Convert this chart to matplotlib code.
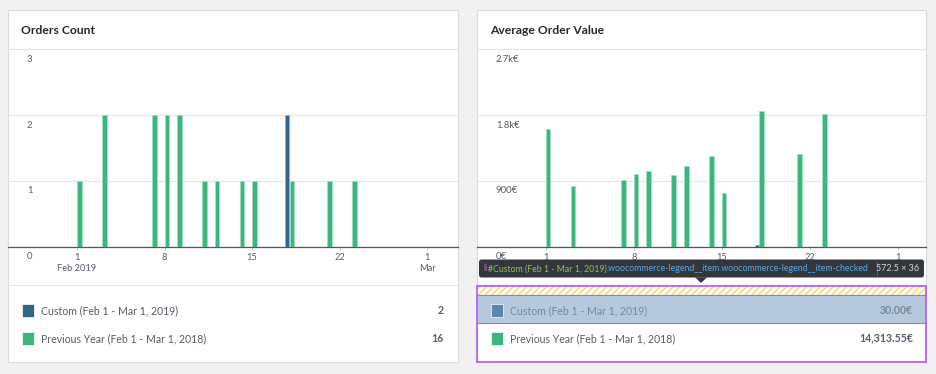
import matplotlib
matplotlib.use("Agg")
import matplotlib.pyplot as plt
from matplotlib.patches import Rectangle, Polygon, FancyBboxPatch
import matplotlib.transforms as mtrans

plt.rcParams['font.family'] = ['Lato', 'DejaVu Sans']
plt.rcParams['hatch.color'] = "#e6d66a"
plt.rcParams['hatch.linewidth'] = 0.8

# ---------------- data ----------------
days_prev = [1, 3, 7, 8, 9, 11, 12, 14, 15, 18, 21, 23]
orders_prev = [1, 2, 2, 2, 2, 1, 1, 1, 1, 1, 1, 1]
days_cur = [18]
orders_cur = [2]
aov_prev = [1605, 830, 918, 1000, 1040, 985, 1110, 1240, 735, 1855, 1263, 1815]
aov_cur = [30]

x_ticks = [1, 8, 15, 22, 29]
x_ticklabels = ["1\nFeb 2019", "8", "15", "22", "1\nMar"]
x_ticklabels_aov = ["1", "8", "15", "22", "1"]   # second line hidden by tooltip
orders_yticks = [0, 1, 2, 3]
orders_ylabels = ["0", "1", "2", "3"]
aov_yticks = [0, 900, 1800, 2700]
aov_ylabels = ["0€", "900€", "1.8k€", "2.7k€"]

titles = ["Orders Count", "Average Order Value"]
legend_labels = ["Custom (Feb 1 - Mar 1, 2019)", "Previous Year (Feb 1 - Mar 1, 2018)"]
orders_totals = ["2", "16"]
aov_totals = ["30.00€", "14,313.55€"]

BLUE = "#33658a"
GREEN = "#3bb77e"
TEXT = "#555d66"
W, H = 936, 374

fig = plt.figure(figsize=(W / 100, H / 100), dpi=100, facecolor="#f1f1f1")


def pixel_overlay(z):
    a = fig.add_axes([0, 0, 1, 1])
    a.set_xlim(0, W)
    a.set_ylim(H, 0)
    a.axis("off")
    a.set_zorder(z)
    a.patch.set_visible(False)
    return a


bg = pixel_overlay(0)


def px_axes(x0, y0, x1, y1):
    return fig.add_axes([x0 / W, 1 - y1 / H, (x1 - x0) / W, (y1 - y0) / H])


cards = [(8.3, 9.5, 457.5, 361.5), (477.3, 9.5, 926.3, 361.5)]
for (x0, y0, x1, y1), title in zip(cards, titles):
    bg.add_patch(Rectangle((x0, y0), x1 - x0, y1 - y0, facecolor="white",
                           edgecolor="#dcdcdc", lw=0.8))
    bg.plot([x0, x1], [49.4, 49.4], color="#e2e4e7", lw=0.8)
    bg.plot([x0, x1], [285, 285], color="#e2e4e7", lw=0.8)
    bg.text(x0 + 13, 30.5, title, fontsize=8.7, fontweight="bold",
            color="#23282d", va="center", ha="left")


def draw_chart(x0, x1, day1_px, step_px, prev, cur, yticks, ylabels, ymax, xlabels):
    ax = px_axes(x0, 49.4, x1, 246.7)
    ax.set_zorder(1)
    left = 1 + (x0 - day1_px) / step_px
    right = 1 + (x1 - day1_px) / step_px
    ax.set_xlim(left, right)
    ax.set_ylim(0, ymax)
    bw = 4.6 / step_px
    ax.bar(days_prev, prev, width=bw, align="edge", color=GREEN,
           edgecolor="#a8e0c4", linewidth=0.4, zorder=3)
    ax.bar([d - bw for d in days_cur], cur, width=bw, align="edge", color=BLUE,
           edgecolor="#8fb0cc", linewidth=0.4, zorder=3)
    for s in ["top", "left", "right"]:
        ax.spines[s].set_visible(False)
    ax.spines["bottom"].set_color("#50575e")
    ax.spines["bottom"].set_linewidth(0.9)
    ax.set_yticks(yticks)
    ax.set_yticklabels([])
    ax.tick_params(axis="y", length=0)
    ax.yaxis.grid(True, color="#e2e4e7", lw=0.8)
    ax.set_axisbelow(True)
    ax.set_xticks(x_ticks)
    ax.set_xticklabels(xlabels, fontsize=6.7, color=TEXT, linespacing=1.4)
    ax.tick_params(axis="x", length=2.5, width=0.6, color="#b5bcc2", pad=1.8)
    ax.set_facecolor("none")
    off = mtrans.ScaledTranslation(18.5 / 100, -10 / 100, fig.dpi_scale_trans)
    tr = mtrans.blended_transform_factory(ax.transAxes, ax.transData) + off
    for v, lab in zip(yticks, ylabels):
        ax.text(0, v, lab, transform=tr, fontsize=6.8, color=TEXT,
                ha="left", va="center")
    return ax


draw_chart(8.3, 457.5, 77.0, 12.5, orders_prev, orders_cur,
           orders_yticks, orders_ylabels, 3, x_ticklabels)
draw_chart(477.3, 926.3, 545.7, 12.57, aov_prev, aov_cur,
           aov_yticks, aov_ylabels, 2700, x_ticklabels_aov)

# ---------------- legends & devtools overlay ----------------
top = pixel_overlay(5)
row_y = [310.3, 338.3]
colors = [BLUE, GREEN]

bx0, bx1 = 477.3, 926.3
top.add_patch(Rectangle((bx0, 286), bx1 - bx0, 9, facecolor="#fdfbe8",
                        edgecolor="#e6d66a", lw=0, hatch="/////", zorder=2))
top.add_patch(Rectangle((bx0, 295), bx1 - bx0, 28.3, facecolor="#b4c9dd",
                        edgecolor="none", zorder=2))
top.add_patch(Rectangle((bx0, 286), bx1 - bx0, 76, facecolor="none",
                        edgecolor="#b763f0", lw=1.3, zorder=4))
top.plot([bx0, bx1], [295, 295], color="#b763f0", lw=0.8, zorder=4)
top.plot([bx0, bx1], [323.3, 323.3], color="#b763f0", lw=0.8, zorder=4)

for (x0, y0, x1, y1), totals, panel in zip(cards, [orders_totals, aov_totals], [0, 1]):
    for i, (lab, tot, c) in enumerate(zip(legend_labels, totals, colors)):
        y = row_y[i]
        sx = x0 + 13.5
        hl = (panel == 1 and i == 0)
        top.add_patch(Rectangle((sx, y - 6.2), 12.5, 12.5,
                                facecolor="#5a87ad" if hl else c,
                                edgecolor="white", lw=0.5, zorder=5))
        tcol = "#7a8898" if hl else TEXT
        top.text(sx + 19, y, lab, fontsize=7.6, color=tcol, ha="left",
                 va="center", zorder=5)
        top.text(x1 - 13.5, y, tot, fontsize=7.6, color=tcol, ha="right",
                 va="center", fontweight="bold", zorder=5)

# devtools tooltip
tip_x0, tip_x1, tip_y0, tip_y1 = 479, 924, 259.5, 277.5
top.add_patch(FancyBboxPatch((tip_x0, tip_y0), tip_x1 - tip_x0, tip_y1 - tip_y0,
                             boxstyle="round,pad=0,rounding_size=2.5",
                             facecolor="#33373d", edgecolor="none", zorder=6))
top.add_patch(Polygon([[695, 277.3], [707, 277.3], [701, 283]], closed=True,
                      facecolor="#33373d", edgecolor="none", zorder=6))
ty = 268.6
parts = [("li", "#c46fbf"), ("#Custom (Feb 1 - Mar 1, 2019)", "#9bbb59"),
         (".woocommerce-legend__item.woocommerce-legend__item-checked", "#5fa7d8")]
fig.canvas.draw()
renderer = fig.canvas.get_renderer()
xcur = 483.5
for s, c in parts:
    t = top.text(xcur, ty, s, fontsize=6.3, color=c, ha="left", va="center", zorder=7)
    bb = t.get_window_extent(renderer)
    xcur += bb.width
top.plot([876.5, 876.5], [262, 275], color="#5a5f66", lw=0.7, zorder=7)
top.text(919.5, ty, "572.5 × 36", fontsize=6.5, color="#d8d8d8", ha="right",
         va="center", zorder=7)

fig.savefig("out.png", dpi=100, facecolor=fig.get_facecolor())
